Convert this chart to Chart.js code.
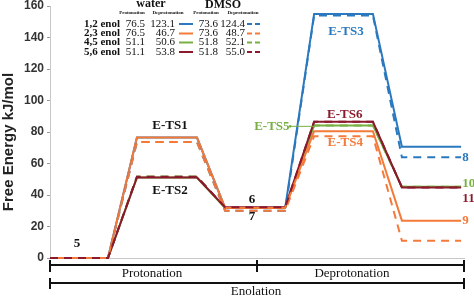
<!DOCTYPE html>
<html lang="en">
<head>
  <meta charset="UTF-8" />
  <title>Enolation free energy profile</title>
  <script src="https://cdn.jsdelivr.net/npm/chart.js"></script>
  <style>
    body { margin: 0; background: #fff; }
    #wrap { width: 474px; height: 296px; }
  </style>
</head>
<body>
  <div id="wrap"><canvas id="profile" width="474" height="296"></canvas></div>
  <script>
    // reaction coordinate: ends of each flat level (5, TS1/TS2, 6/7, TS3-6, 8-11)
    const stageX = [0, 14, 21, 35.5, 42.3, 56.8, 63.8, 78, 85, 99.3];

    // free energies (kJ/mol)
    const enol12Water = [0, 0, 76.5, 76.5, 31.8, 31.8, 155, 155, 70.7, 70.7];
    const enol12Dmso  = [0, 0, 73.6, 73.6, 30, 30, 154, 154, 64, 64];
    const enol23Water = [0, 0, 76.5, 76.5, 31.8, 31.8, 80.5, 80.5, 23.7, 23.7];
    const enol23Dmso  = [0, 0, 73.6, 73.6, 30, 30, 77.3, 77.3, 11, 11];
    const enol45Water = [0, 0, 51.1, 51.1, 31.8, 31.8, 84.2, 84.2, 45.2, 45.2];
    const enol45Dmso  = [0, 0, 51.8, 51.8, 31.8, 31.8, 84.2, 84.2, 45.2, 45.2];
    const enol56Water = [0, 0, 51.1, 51.1, 32.3, 32.3, 86.5, 86.5, 44.8, 44.8];
    const enol56Dmso  = [0, 0, 51.6, 51.6, 32.3, 32.3, 86.5, 86.5, 44.8, 44.8];

    // barrier table shown in the top-left
    const enolNames   = ['1,2 enol', '2,3 enol', '4,5 enol', '5,6 enol'];
    const waterProt   = ['76.5', '76.5', '51.1', '51.1'];
    const waterDeprot = ['123.1', '46.7', '50.6', '53.8'];
    const dmsoProt    = ['73.6', '73.6', '51.8', '51.8'];
    const dmsoDeprot  = ['124.4', '48.7', '52.1', '55.0'];

    const yTicks = [0, 20, 40, 60, 80, 100, 120, 140, 160];

    const BLUE = '#2a79bf', ORANGE = '#f47a3a', GREEN = '#78b043', RED = '#8b1a2c';
    const enolColors = [BLUE, ORANGE, GREEN, RED];

    // state labels: text, x, y (data units), colour, align
    const stateLabels = [
      ['5', 6.5, 9, '#111', 'center'],
      ['E-TS1', 29, 84, '#111', 'center'],
      ['E-TS2', 29, 42.5, '#111', 'center'],
      ['6', 48.8, 37, '#111', 'center'],
      ['7', 48.8, 26, '#111', 'center'],
      ['E-TS3', 71.5, 144, BLUE, 'center'],
      ['E-TS6', 71.2, 91, RED, 'center'],
      ['E-TS5', 53.6, 83.6, GREEN, 'center'],
      ['E-TS4', 71.3, 73, ORANGE, 'center'],
      ['8', 99.6, 63.5, BLUE, 'left'],
      ['10', 99.6, 47, GREEN, 'left'],
      ['11', 99.6, 37.5, RED, 'left'],
      ['9', 99.6, 23.5, ORANGE, 'left']
    ];

    function pts(ys) {
      return stageX.map((x, i) => ({ x: x, y: ys[i] }));
    }

    function line(data, color, dashed) {
      return {
        data: pts(data),
        borderColor: color,
        borderWidth: 2,
        borderDash: dashed ? [8, 6] : [],
        pointRadius: 0,
        fill: false,
        tension: 0,
        clip: false
      };
    }

    const SERIF = '"Liberation Serif", "Times New Roman", Times, serif';

    // extra drawing: legend table, labels, brackets under the axis, y title
    const annotations = {
      id: 'annotations',
      afterDraw(chart) {
        const ctx = chart.ctx;
        const xs = chart.scales.x, ys = chart.scales.y;
        ctx.save();

        // y-axis title
        ctx.save();
        ctx.translate(9, 142);
        ctx.rotate(-Math.PI / 2);
        ctx.font = 'bold 15px "Liberation Sans", Arial, sans-serif';
        ctx.fillStyle = '#222';
        ctx.textAlign = 'center';
        ctx.textBaseline = 'middle';
        ctx.fillText('Free Energy kJ/mol', 0, 0);
        ctx.restore();

        // table headers
        ctx.fillStyle = '#111';
        ctx.textBaseline = 'middle';
        ctx.textAlign = 'center';
        ctx.font = 'bold 12px ' + SERIF;
        ctx.fillText('water', 151, 4);
        ctx.fillText('DMSO', 223, 5);
        ctx.font = 'bold 5px ' + SERIF;
        ctx.fillText('Protonation', 132, 13);
        ctx.fillText('Deprotonation', 168, 13);
        ctx.fillText('Protonation', 206, 13);
        ctx.fillText('Deprotonation', 243, 13);

        const rowY = [24, 33.5, 42.5, 52];
        enolNames.forEach((name, i) => {
          const y = rowY[i];
          ctx.fillStyle = '#111';
          ctx.textAlign = 'right';
          ctx.font = 'bold 11px ' + SERIF;
          ctx.fillText(name, 120, y);
          ctx.font = '11px ' + SERIF;
          ctx.fillText(waterProt[i], 145, y);
          ctx.fillText(waterDeprot[i], 175, y);
          ctx.fillText(dmsoProt[i], 218, y);
          ctx.fillText(dmsoDeprot[i], 245, y);
          ctx.strokeStyle = enolColors[i];
          ctx.lineWidth = 2;
          ctx.setLineDash([]);
          ctx.beginPath(); ctx.moveTo(179, y); ctx.lineTo(193, y); ctx.stroke();
          ctx.setLineDash([5, 3]);
          ctx.beginPath(); ctx.moveTo(247, y); ctx.lineTo(263, y); ctx.stroke();
          ctx.setLineDash([]);
        });

        // state labels
        ctx.font = 'bold 13px ' + SERIF;
        stateLabels.forEach(([t, x, y, c, a]) => {
          ctx.fillStyle = c;
          ctx.textAlign = a;
          ctx.fillText(t, xs.getPixelForValue(x), ys.getPixelForValue(y));
        });

        // leader from E-TS5 to its level
        const ly = ys.getPixelForValue(83.6);
        ctx.strokeStyle = GREEN;
        ctx.fillStyle = GREEN;
        ctx.lineWidth = 1;
        ctx.beginPath();
        ctx.moveTo(xs.getPixelForValue(58), ly);
        ctx.lineTo(xs.getPixelForValue(stageX[6]), ly);
        ctx.stroke();
        ctx.beginPath();
        ctx.arc(xs.getPixelForValue(58), ly, 1.3, 0, Math.PI * 2);
        ctx.fill();

        // brackets below the axis
        const x0 = xs.getPixelForValue(0), x1 = xs.getPixelForValue(100);
        const xm = xs.getPixelForValue(50);
        ctx.strokeStyle = '#111';
        ctx.lineWidth = 2;
        ctx.beginPath();
        ctx.moveTo(x0, 265); ctx.lineTo(x1, 265);
        [x0, xm, x1].forEach(x => { ctx.moveTo(x, 260); ctx.lineTo(x, 272); });
        ctx.moveTo(x0, 283); ctx.lineTo(x1, 283);
        [x0, x1].forEach(x => { ctx.moveTo(x, 278); ctx.lineTo(x, 289); });
        ctx.stroke();

        ctx.fillStyle = '#111';
        ctx.textAlign = 'center';
        ctx.font = '13px ' + SERIF;
        ctx.fillText('Protonation', 152, 273.5);
        ctx.fillText('Deprotonation', 352, 273.5);
        ctx.fillText('Enolation', 256, 292);

        ctx.restore();
      }
    };

    new Chart(document.getElementById('profile').getContext('2d'), {
      type: 'line',
      data: {
        datasets: [
          line(enol56Dmso, RED, true),
          line(enol23Dmso, ORANGE, true),
          line(enol12Dmso, BLUE, true),
          line(enol23Water, ORANGE, false),
          line(enol56Water, RED, false),
          line(enol45Water, GREEN, false),
          line(enol45Dmso, GREEN, true),
          line(enol12Water, BLUE, false)
        ]
      },
      options: {
        responsive: false,
        animation: false,
        devicePixelRatio: 1,
        layout: { padding: { top: 6, right: 10, left: 0, bottom: 0 } },
        plugins: { legend: { display: false }, tooltip: { enabled: false } },
        scales: {
          x: {
            type: 'linear',
            min: 0,
            max: 100,
            ticks: { display: false },
            grid: { display: false },
            border: { color: '#c8c8c8', width: 1 },
            afterFit(s) { s.height = 38; s.paddingLeft = 0; s.paddingRight = 0; }
          },
          y: {
            min: 0,
            max: 160,
            afterBuildTicks(s) { s.ticks = yTicks.map(v => ({ value: v })); },
            ticks: {
              color: '#333',
              padding: 3,
              font: { family: '"Liberation Sans", Arial, sans-serif', size: 12, weight: 'bold' }
            },
            grid: { drawOnChartArea: false, drawTicks: true, tickLength: 3, color: '#999' },
            border: { color: '#c8c8c8', width: 1 },
            afterFit(s) { s.width = 50; s.paddingTop = 0; s.paddingBottom = 0; }
          }
        }
      },
      plugins: [annotations]
    });
  </script>
</body>
</html>
